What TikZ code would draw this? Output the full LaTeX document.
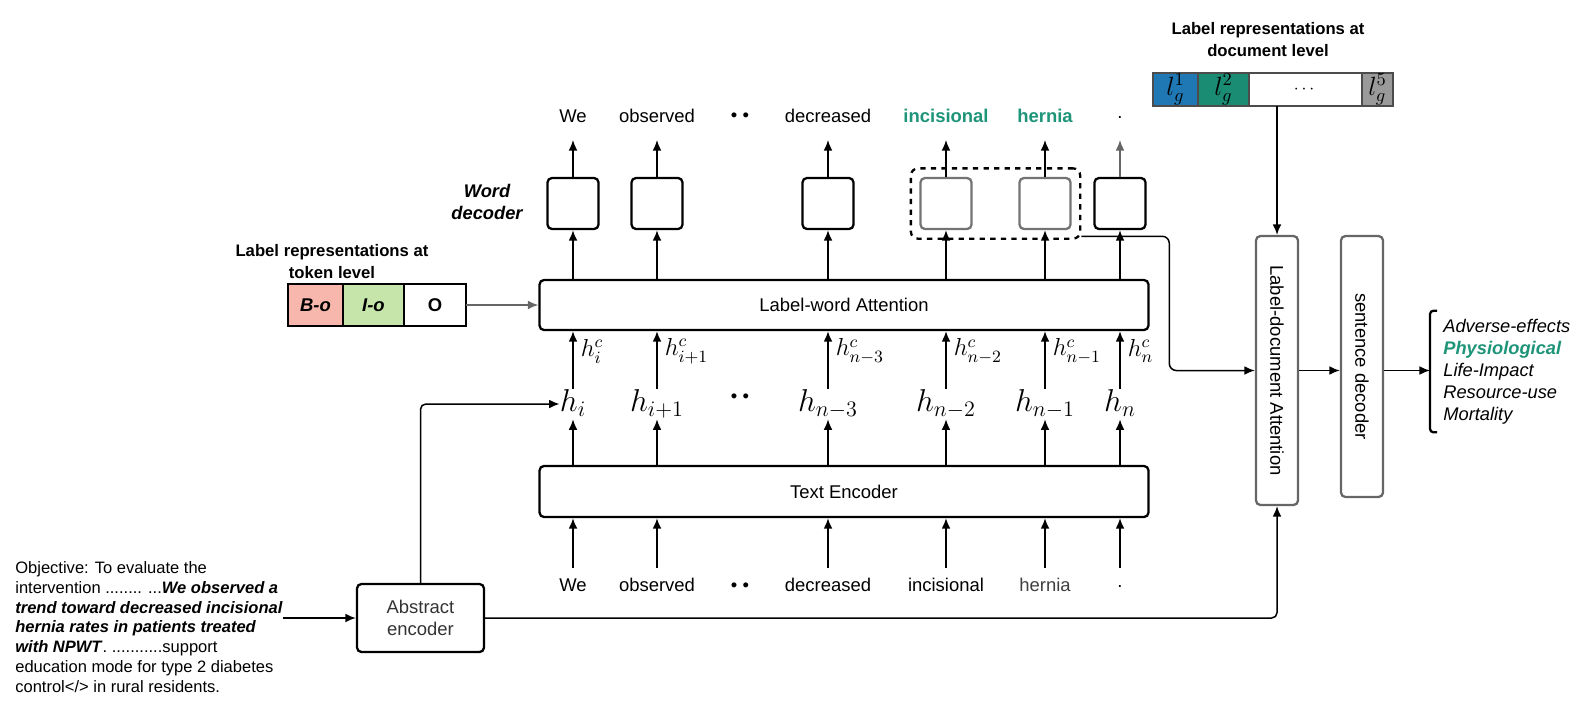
\RequirePackage{fix-cm}
\documentclass[tikz,border=0pt]{standalone}
\usepackage{fontspec}
\setmainfont{Liberation Sans}
\usepackage{amsmath}
\usetikzlibrary{positioning,fit,arrows.meta}
\definecolor{teal1}{HTML}{1E9478}
\definecolor{blue1}{HTML}{1F78B4}
\definecolor{green1}{HTML}{1A8C74}
\definecolor{grey1}{HTML}{9A9A9A}
\definecolor{pink1}{HTML}{F7B7AC}
\definecolor{lgreen}{HTML}{C6E5AA}
\tikzset{
  box/.style={draw, line width=1.3pt, rounded corners=2.5pt, inner sep=0pt, font=\fontsize{10.5}{12.5}\selectfont},
  dec/.style={box, minimum width=1.02cm, minimum height=1.02cm},
  greydec/.style={dec, draw=black!55},
  vbox/.style={box, draw=black!60, minimum width=0.84cm},
  flow/.style={-{Latex[length=6pt,width=5pt]}, line width=0.85pt},
  word/.style={font=\fontsize{10.5}{12}\selectfont, inner sep=0pt, text height=8pt, text depth=2.5pt},
  hvec/.style={font=\fontsize{18}{20}\selectfont, inner sep=0pt, text height=13pt, text depth=4pt},
  hctx/.style={font=\fontsize{14}{16}\selectfont, inner sep=1pt, anchor=west, xshift=3pt},
  title/.style={font=\fontsize{9.5}{12}\selectfont\bfseries, align=center, inner sep=0pt},
  cell/.style={draw=black!70, line width=1.3pt, outer sep=0pt, minimum height=0.66cm, inner sep=0pt, font=\fontsize{15}{16}\selectfont},
  tcell/.style={draw, line width=1.3pt, outer sep=0pt, minimum height=0.84cm, inner sep=0pt, font=\fontsize{10.5}{12}\selectfont\bfseries},
}
\begin{document}
\begin{tikzpicture}[x=0.02cm, y=-0.02cm]
\useasboundingbox (0,0) rectangle (1581,711);

% encoder and attention blocks
\node[box, minimum width=12.18cm, minimum height=1.02cm] (txtenc) at (844,491.5) {Text Encoder};
\node[box, minimum width=12.18cm, minimum height=1cm] (lwatt) at (844,305) {Label-word Attention};

% input tokens
\foreach \i/\x/\w in {1/573/We,2/657/observed,3/828/decreased,4/946/incisional,5/1045/{\textcolor{black!75}{hernia}},6/1120/·} {
  \node[word, anchor=north, inner ysep=5pt] (b\i) at (\x,568) {\w};
  \draw[flow] (b\i.north) -- (txtenc.south -| b\i.north);
}
\node[word] (bdots) at (740,587) {• •};

% hidden states
\foreach \i/\x/\v/\c in {1/573/{h_i}/{h^c_i},2/657/{h_{i+1}}/{h^c_{i+1}},3/828/{h_{n-3}}/{h^c_{n-3}},4/946/{h_{n-2}}/{h^c_{n-2}},5/1045/{h_{n-1}}/{h^c_{n-1}},6/1120/{h_n}/{h^c_n}} {
  \node[hvec] (h\i) at (\x,404) {$\v$};
  \draw[flow] (txtenc.north -| h\i) -- (h\i.south);
  \draw[flow] (h\i.north) -- (lwatt.south -| h\i) node[hctx, pos=0.65] (hc\i) {$\c$};
}
\node[word] (hdots) at (740,398) {• •};

% word decoder
\foreach \i/\x in {1/573,2/657,3/828,6/1120} \node[dec] (d\i) at (\x,203.5) {};
\foreach \i/\x in {4/946,5/1045} \node[greydec] (d\i) at (\x,203.5) {};
\foreach \i in {1,...,6} \draw[flow] (lwatt.north -| d\i) -- (d\i.south);
\node[draw, dashed, line width=1.3pt, rounded corners=4pt, inner sep=0.17cm, fit=(d4)(d5)] (grp) {};
\node[title, font=\fontsize{10.4}{12.5}\selectfont\bfseries\itshape] (wdec) at (487,202) {Word\\decoder};

% output tokens
\foreach \i/\x/\w in {1/573/We,2/657/observed,3/828/decreased,4/946/{\textcolor{teal1}{\bfseries incisional}},5/1045/{\textcolor{teal1}{\bfseries hernia}},6/1120/·} {
  \node[word, anchor=south, inner ysep=7pt] (t\i) at (\x,140) {\w};
}
\foreach \i in {1,...,5} \draw[flow] (d\i.north) -- (t\i.south);
\draw[flow, black!60] (d6.north) -- (t6.south);
\node[word] (tdots) at (740,117) {• •};

% token level labels
\node[tcell, fill=pink1, minimum width=1.1cm, anchor=west] (bo) at (288,305) {\itshape B-o};
\node[tcell, fill=lgreen, minimum width=1.22cm, right=0pt of bo] (io) {\itshape I-o};
\node[tcell, minimum width=1.24cm, right=0pt of io] (oo) {O};
\node[title] (ttitle) at (332,261.5) {Label representations at\\token level};
\draw[flow, black!60] (oo) -- (lwatt);

% document level labels
\node[cell, fill=blue1, minimum width=0.9cm, anchor=north west] (lg1) at (1153,73) {$l_g^1$};
\node[cell, fill=green1, minimum width=1.02cm, right=0pt of lg1] (lg2) {$l_g^2$};
\node[cell, fill=white, minimum width=2.26cm, right=0pt of lg2] (lgdots) {\fontsize{10}{12}\selectfont$\cdots$};
\node[cell, fill=grey1, minimum width=0.62cm, right=0pt of lgdots] (lg5) {$l_g^5$};
\node[title] (gtitle) at (1268,39.5) {Label representations at\\document level};

% sentence side
\node[vbox, minimum height=5.38cm] (ldatt) at (1277,370.5) {\rotatebox{-90}{Label-document Attention}};
\node[vbox, minimum height=5.22cm] (sdec) at (1362,366.5) {\rotatebox{-90}{sentence decoder}};
\node[anchor=west, align=left, inner xsep=0.26cm, inner ysep=0pt, minimum height=2.42cm, font=\fontsize{10.4}{12.5}\selectfont\itshape] (outs) at (1430,371.5) {Adverse-effects\\\textcolor{teal1}{\bfseries Physiological}\\Life-Impact\\Resource-use\\Mortality};
\draw[line width=1.3pt, rounded corners=2pt] ([xshift=0.14cm]outs.north west) -- (outs.north west) -- (outs.south west) -- ([xshift=0.14cm]outs.south west);
\draw[flow] (ldatt.north |- lgdots.south) -- (ldatt.north);
\draw[flow, rounded corners=4pt] ([yshift=2pt]grp.south east) -- ++(88,0) |- (ldatt.west);
\draw[flow] (ldatt.east) -- (ldatt.east -| sdec.west);
\draw[flow] (sdec.east |- ldatt.east) -- (outs.west |- ldatt.east);

% abstract input
\node[box, minimum width=2.54cm, minimum height=1.36cm, align=center, text=black!80] (abs) at (420.5,618) {Abstract\\encoder};
\node[anchor=west, align=left, inner sep=0pt, font=\fontsize{9.4}{11.3}\selectfont] (src) at (15,627) {Objective: To evaluate the\\intervention ........ ...\textbf{\textit{We observed a}}\\\textbf{\textit{trend toward decreased incisional}}\\\textbf{\textit{hernia rates in patients treated}}\\\textbf{\textit{with NPWT}}. ...........support\\education mode for type 2 diabetes\\control</> in rural residents.};
\draw[flow] (src.east |- abs.west) -- (abs.west);
\draw[flow, rounded corners=3pt] (abs.north) |- (h1.west);
\draw[flow, rounded corners=3pt] (abs.east) -| (ldatt.south);
\end{tikzpicture}
\end{document}
